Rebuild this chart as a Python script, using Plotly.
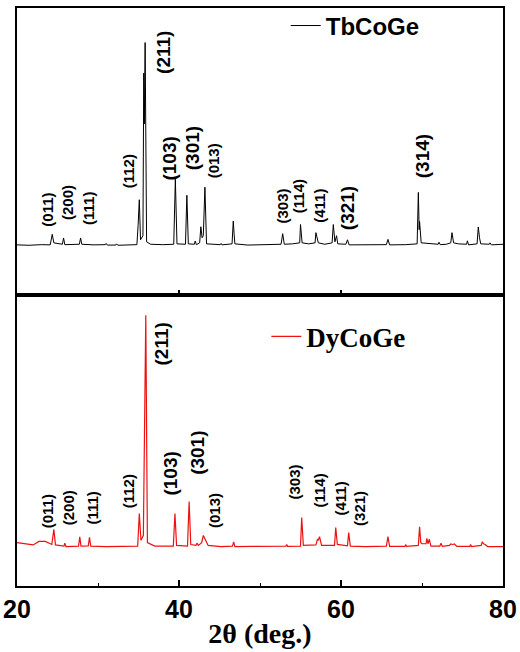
import plotly.graph_objects as go

# TbCoGe pattern (2theta in deg, intensity in arb. units, main peak = 100)
tb_2theta = [20.0, 21.5, 23.0, 24.1, 24.35, 24.55, 25.6, 25.75, 25.9, 27.0, 27.7, 27.85, 28.0,
             29.5, 30.9, 31.0, 31.15, 32.2, 32.3, 32.45, 34.8, 34.95, 35.1, 35.25, 35.55,
             35.65, 35.72, 35.82, 36.0, 36.5, 38.0, 39.35, 39.55, 39.75, 40.8, 40.97, 41.15,
             41.9, 42.0, 42.15, 42.55, 42.7, 42.85, 43.0, 43.2, 43.4, 45.1, 45.2, 45.3,
             46.55, 46.7, 46.8, 46.9, 48.5, 50.0, 51.5, 52.6, 52.8, 53.0, 54.0, 54.9, 55.0,
             55.2, 56.0, 56.8, 56.9, 57.2, 58.0, 58.9, 59.05, 59.25, 59.45, 59.6, 60.6, 60.8,
             61.0, 63.0, 65.6, 65.8, 66.0, 68.0, 69.4, 69.55, 69.65, 69.7, 69.9, 71.0, 72.0,
             72.1, 72.25, 73.0, 73.55, 73.7, 73.9, 74.5, 75.5, 75.6, 75.75, 76.8, 76.95,
             77.1, 77.25, 78.3, 78.4, 78.55, 80.0]
tb_intensity = [0.5, 0.3, 0.6, 0.5, 5.7, 1.5, 0.8, 3.9, 0.6, 0.5, 0.8, 3.9, 0.8,
                0.5, 0.6, 1.2, 0.4, 0.4, 1.0, 0.3, 0.6, 10, 22.7, 3, 5,
                85, 60, 100, 2, 0.8, 0.6, 0.8, 32.8, 1, 0.8, 24.9, 1,
                0.8, 2.4, 0.6, 1.5, 9.4, 4, 5, 28.9, 1, 0.6, 1.2, 0.5,
                1, 12.2, 6, 1, 0.4, 0.6, 0.5, 0.8, 6, 0.8, 1, 1.5, 10.5,
                1.5, 1, 1.5, 6.5, 1.5, 0.8, 1.5, 10.5, 2, 5, 1, 0.8, 3,
                0.5, 0.6, 0.6, 3.2, 0.5, 0.6, 1, 26.3, 8, 12, 1.5, 1, 0.8,
                1.8, 0.6, 0.8, 1.5, 6.5, 1.5, 1, 0.8, 2.5, 0.5, 1, 9.3,
                4, 1, 0.8, 1.5, 0.5, 0.8]

# DyCoGe pattern
dy_2theta = [20.0, 21.0, 22.0, 22.7, 23.5, 24.3, 24.55, 24.75, 25.8, 25.9, 26.05, 27.6, 27.75,
             27.9, 28.8, 28.95, 29.1, 31.0, 33.0, 34.9, 35.1, 35.3, 35.6, 35.9, 36.1, 37.0,
             39.3, 39.5, 39.7, 41.05, 41.25, 41.45, 42.1, 42.2, 42.4, 42.8, 43.0, 43.3, 43.6,
             45.2, 46.6, 46.75, 46.9, 49.0, 51.0, 53.2, 53.3, 53.4, 55.0, 55.15, 55.35, 56.9,
             57.1, 57.2, 57.35, 57.6, 59.2, 59.35, 59.55, 60.8, 60.95, 61.15, 63.0, 65.6, 65.8,
             66.0, 67.9, 68.0, 68.1, 69.55, 69.7, 69.85, 70.0, 70.5, 70.6, 70.75, 70.9, 71.1,
             72.2, 72.35, 72.5, 73.4, 73.55, 73.8, 74.0, 74.3, 75.9, 76.0, 76.1, 77.3, 77.45,
             77.6, 77.8, 78.1, 80.0]
dy_intensity = [2, 1.5, 1.0, 2.5, 2.5, 1.2, 7.7, 1, 0.5, 1.8, 0.3, 0.5, 4.5,
                0.5, 0.6, 4.3, 0.5, 0.3, 0.4, 0.5, 14.5, 3, 5, 100, 2, 0.5,
                0.5, 14.5, 0.8, 0.5, 19.7, 1.2, 0.8, 1.8, 0.8, 2, 5.1, 3, 0.8,
                0.3, 0.5, 2.3, 0.3, 0.4, 0.5, 0.5, 1.2, 0.4, 0.5, 12.8, 0.8, 1,
                3.5, 3, 4.6, 0.8, 0.8, 8.5, 1.2, 0.6, 6.3, 0.5, 0.3, 0.5, 4.6,
                0.4, 0.4, 1.0, 0.4, 0.8, 8.8, 2, 1.5, 1.5, 3.8, 1.5, 3.5, 0.5,
                0.5, 1.7, 0.4, 0.8, 1.4, 1.2, 1.4, 0.4, 0.4, 1.2, 0.3, 0.8, 2.4,
                1.5, 1.2, 0.3, 0.3]

# peak labels (hkl, label x, label y, big font?)
tb_hkl = ["(011)", "(200)", "(111)", "(112)", "(211)", "(103)", "(301)", "(013)",
          "(303)", "(114)", "(411)", "(321)", "(314)"]
tb_lab_x = [23.8, 26.3, 28.9, 33.7, 38.0, 38.8, 41.6, 44.2, 52.8, 54.7, 57.4, 60.9, 70.1]
tb_lab_y = [17.7, 21.1, 18.2, 36.7, 95.3, 43.1, 48.0, 41.6, 19.7, 24.5, 19.7, 18.7, 44.0]
tb_big = [0, 0, 0, 0, 1, 1, 1, 0, 0, 0, 0, 1, 1]

dy_hkl = ["(011)", "(200)", "(111)", "(112)", "(211)", "(103)", "(301)", "(013)",
          "(303)", "(114)", "(411)", "(321)"]
dy_lab_x = [23.7, 26.3, 29.3, 33.7, 37.9, 38.9, 42.35, 44.4, 54.2, 57.3, 59.9, 62.3]
dy_lab_y = [15.5, 16.8, 16.8, 24.1, 87.8, 31.8, 40.7, 15.9, 27.9, 24.5, 21.1, 16.8]
dy_big = [0, 0, 0, 0, 1, 1, 1, 0, 0, 0, 0, 0]

split = 0.5026

fig = go.Figure()
fig.add_trace(go.Scatter(x=tb_2theta, y=tb_intensity, mode="lines", name="TbCoGe",
                         xaxis="x2", yaxis="y2", line=dict(color="black", width=1),
                         legend="legend", showlegend=True))
fig.add_trace(go.Scatter(x=dy_2theta, y=dy_intensity, mode="lines", name="DyCoGe",
                         xaxis="x", yaxis="y", line=dict(color="#ee1111", width=1.2),
                         legend="legend2", showlegend=True))

annots = []
for t, x, y, b in zip(tb_hkl, tb_lab_x, tb_lab_y, tb_big):
    annots.append(dict(text=t, x=x, y=y, xref="x2", yref="y2", showarrow=False,
                       textangle=-90,
                       font=dict(family="Liberation Sans", size=19 if b else 15,
                                 color="black", weight="bold")))
for t, x, y, b in zip(dy_hkl, dy_lab_x, dy_lab_y, dy_big):
    annots.append(dict(text=t, x=x, y=y, xref="x", yref="y", showarrow=False,
                       textangle=-90,
                       font=dict(family="Liberation Sans", size=19 if b else 15,
                                 color="black", weight="bold")))

axis_common = dict(range=[20, 80], showline=True, linecolor="black", linewidth=1.6,
                   mirror=True, showgrid=False, zeroline=False,
                   ticks="inside", ticklen=6, tickwidth=1.5, tickcolor="black",
                   dtick=20, tick0=20,
                   minor=dict(ticks="inside", ticklen=3, tickwidth=1.2,
                              tickcolor="black", dtick=10, showgrid=False))

fig.update_layout(
    width=520, height=652,
    showlegend=True,
    margin=dict(l=17, r=15, t=3, b=66),
    plot_bgcolor="white", paper_bgcolor="white",
    annotations=annots,
    xaxis=dict(**axis_common, anchor="y",
               tickfont=dict(family="Liberation Sans", size=25, color="black", weight="bold"),
               title=dict(text="2θ (deg.)", standoff=2,
                          font=dict(family="Liberation Serif", size=28, color="black",
                                    weight="bold"))),
    xaxis2=dict(**axis_common, anchor="y2", matches="x", showticklabels=False),
    yaxis=dict(domain=[0, split], range=[-16.7, 108.5], showline=True, linecolor="black",
               linewidth=1.6, mirror=True, showticklabels=False, ticks="",
               showgrid=False, zeroline=False),
    yaxis2=dict(domain=[split, 1], range=[-24.4, 117], showline=True, linecolor="black",
                linewidth=1.6, mirror=True, showticklabels=False, ticks="",
                showgrid=False, zeroline=False),
    legend=dict(x=0.553, y=0.969, xanchor="left", yanchor="middle",
                bgcolor="rgba(0,0,0,0)",
                font=dict(family="Liberation Sans", size=24, color="black", weight="bold")),
    legend2=dict(x=0.513, y=0.431, xanchor="left", yanchor="middle",
                 bgcolor="rgba(0,0,0,0)",
                 font=dict(family="Liberation Serif", size=27, color="black", weight="bold")),
)

fig.write_html("out.html", config={"displayModeBar": False},
               post_script="document.body.style.margin='0';")
